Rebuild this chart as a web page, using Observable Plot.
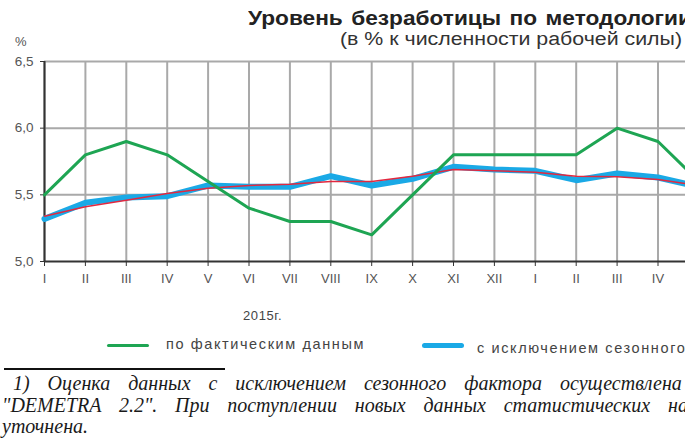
<!DOCTYPE html>
<html><head><meta charset="utf-8">
<script src="https://cdn.jsdelivr.net/npm/d3@7"></script>
<script src="https://cdn.jsdelivr.net/npm/@observablehq/plot@0.6"></script>
<style>
html,body{margin:0;padding:0;background:#fff;}
#wrap{position:relative;width:685px;height:448px;overflow:hidden;background:#fff;}
.abs{position:absolute;white-space:nowrap;}
#title{left:248px;top:1px;font:bold 21px "Liberation Sans",Arial,sans-serif;color:#222;transform-origin:0 0;word-spacing:2px;}
#subtitle{left:340px;top:29px;font:18px "Liberation Sans Narrow","Arial Narrow","Liberation Sans",sans-serif;color:#333;transform-origin:0 0;}
#pct{left:15px;top:34px;font:13px "Liberation Sans",Arial,sans-serif;color:#555;}
#year{left:243px;top:308px;font:13px "Liberation Sans",Arial,sans-serif;color:#444;letter-spacing:0.6px;}
.leg{font:14.5px "Liberation Sans",Arial,sans-serif;color:#444;top:336px;}
.sw{position:absolute;border-radius:3px;}
.fn{font:italic 20px "Liberation Serif","Times New Roman",serif;color:#1a1a1a;line-height:22px;}
#chart{position:absolute;left:0;top:0;width:760px;}
#chart svg{max-width:none;}
</style></head><body><div id="wrap">
<div id="chart"></div>
<div class="abs" id="title"><span id="titleFit">Уровень безработицы по методологи</span>и МОТ<sup>1)</sup></div>
<div class="abs" id="subtitle"><span id="subFit">(в % к численности рабочей силы)</span></div>
<div class="abs" id="pct">%</div>
<div class="abs" id="year">2015г.</div>
<div class="sw" style="left:107px;top:344px;width:42px;height:3px;background:#1ea553;"></div>
<div class="abs leg" id="leg1" style="left:166px;">по фактическим данным</div>
<div class="sw" style="left:422px;top:343px;width:42px;height:5px;background:#1aa9e6;"></div>
<div class="abs leg" id="leg2" style="left:477px;">с исключением сезонного фактора<sup>1)</sup></div>
<div class="abs" style="left:4px;top:368px;width:221px;height:2px;background:#111;"></div>
<div class="abs fn" id="fn1" style="left:13px;top:372px;">1) Оценка данных с исключением сезонного фактора <span id="a1">осуществлена</span> с помощью программы</div>
<div class="abs fn" id="fn2" style="left:2px;top:394px;">"DEMETRA 2.2". При поступлении новых данных статистических <span id="a2">наблюдений</span> оценка может быть</div>
<div class="abs fn" id="fn3" style="left:2px;top:415px;">уточнена.</div>
</div>
<script>
const months = ["I","II","III","IV","V","VI","VII","VIII","IX","X","XI","XII","I","II","III","IV","V"];
const actual   = [5.5, 5.8, 5.9, 5.8, 5.6, 5.4, 5.3, 5.3, 5.2, 5.5, 5.8, 5.8, 5.8, 5.8, 6.0, 5.9, 5.6];
const seasonal = [5.32, 5.44, 5.48, 5.49, 5.57, 5.56, 5.56, 5.64, 5.57, 5.62, 5.71, 5.69, 5.68, 5.61, 5.66, 5.63, 5.56];
const trend    = [5.34, 5.41, 5.46, 5.51, 5.55, 5.57, 5.58, 5.60, 5.60, 5.64, 5.69, 5.68, 5.67, 5.64, 5.635, 5.615, 5.57];
const yTicks = [5.0, 5.5, 6.0, 6.5];
const yGrid = [5.5, 6.0, 6.5];

const idx = d3.range(months.length);
const visibleIdx = idx.slice(0, months.length - 1); // last month falls outside the visible crop
const W = 760;
const chart = Plot.plot({
  width: W, height: 300,
  marginLeft: 44, marginRight: W - 698.4, marginTop: 61, marginBottom: 39,
  style: {fontFamily: "'Liberation Sans', Arial, sans-serif", fontSize: "13px", color: "#555", background: "transparent", overflow: "visible"},
  x: {type: "linear", domain: [0, months.length - 1]},
  y: {domain: [5.0, 6.5]},
  marks: [
    Plot.gridX(idx, {stroke: "#a9a9a9", strokeOpacity: 1, strokeWidth: 2}),
    Plot.gridY(yGrid, {stroke: "#a9a9a9", strokeOpacity: 1, strokeWidth: 2}),
    Plot.ruleX([0], {stroke: "#333", strokeWidth: 2}),
    Plot.ruleY([5.0], {stroke: "#333", strokeWidth: 2}),
    Plot.axisY(yTicks, {tickSize: 4, tickPadding: 7, tickFormat: d => d.toFixed(1).replace(".", ","), stroke: "#333", label: null, fontSize: 13.5}),
    Plot.axisX(visibleIdx, {tickSize: 5, tickPadding: 7, tickFormat: i => months[i], stroke: "#333", label: null}),
    Plot.lineY(seasonal, {x: (d, i) => i, y: d => d, stroke: "#1aa9e6", strokeWidth: 6, strokeLinejoin: "round"}),
    Plot.lineY(trend, {x: (d, i) => i, y: d => d, stroke: "#e2283f", strokeWidth: 1.5}),
    Plot.lineY(actual, {x: (d, i) => i, y: d => d, stroke: "#1ea553", strokeWidth: 3, strokeLinejoin: "round"})
  ]
});
document.getElementById("chart").appendChild(chart);

function fitScale(container, fitEl, target) {
  const w = fitEl.getBoundingClientRect().width;
  container.style.transform = `scaleX(${target / w})`;
}
fitScale(document.getElementById("title"), document.getElementById("titleFit"), 430);
fitScale(document.getElementById("subtitle"), document.getElementById("subFit"), 342);

function fitSpacing(el, target, chars) {
  const w = el.getBoundingClientRect().width;
  return (target - w) / chars;
}
const l1 = document.getElementById("leg1");
const ls = fitSpacing(l1, 199, l1.textContent.length);
l1.style.letterSpacing = ls + "px";
document.getElementById("leg2").style.letterSpacing = ls + "px";

function fitWords(line, anchor, targetX, spaces) {
  const ar = anchor.getBoundingClientRect().left;
  line.style.wordSpacing = ((targetX - ar) / spaces) + "px";
}
fitWords(document.getElementById("fn1"), document.getElementById("a1"), 560, 7);
fitWords(document.getElementById("fn2"), document.getElementById("a2"), 668, 7);
</script>
</body></html>
